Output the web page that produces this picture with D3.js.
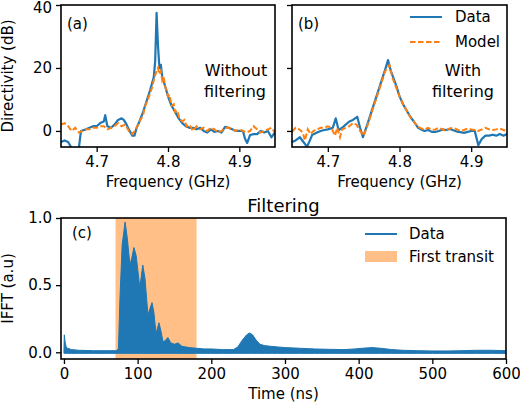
<!DOCTYPE html>
<html><head><meta charset="utf-8">
<script src="https://cdn.jsdelivr.net/npm/d3@7"></script>
<style>body{margin:0;background:#fff}svg{display:block}text{font-family:"DejaVu Sans",sans-serif;fill:#000}</style>
</head><body><svg id="c" width="520" height="409"></svg>
<script>
// ---- Panel (a): without filtering ----
const freqAData = [4.650,4.655,4.660,4.665,4.670,4.675,4.678,4.685,4.690,4.695,4.700,4.705,4.710,4.712,4.715,4.720,4.725,4.730,4.735,4.738,4.742,4.745,4.750,4.753,4.756,4.760,4.765,4.770,4.775,4.780,4.782,4.784,4.786,4.788,4.790,4.792,4.795,4.800,4.805,4.810,4.815,4.820,4.825,4.830,4.835,4.840,4.845,4.850,4.855,4.860,4.865,4.870,4.875,4.880,4.885,4.890,4.895,4.900,4.905,4.908,4.911,4.915,4.920,4.925,4.930,4.935,4.940,4.945,4.950];
const dirAData = [-3.5,-3.0,-3.5,-5.5,-6,-5.5,0,0.5,1,1.5,1.5,2.5,3,5,1.5,1,2,3.5,4,3.5,2,0.5,-1.5,-1.5,1,3,6,9.5,13,17,22,37.5,27,20,21,17,15,11,8,6,4,2.5,1.5,1,1,0.5,1,0,-0.5,0.5,-0.3,0,-0.5,1.3,1,0.5,0,0,0,-2.5,-3.8,-1.3,-1,-1,0,-0.5,0,-2,-0.5];
const freqAModel = [4.650,4.655,4.660,4.665,4.670,4.675,4.680,4.685,4.690,4.695,4.700,4.705,4.710,4.715,4.720,4.725,4.730,4.735,4.740,4.745,4.750,4.755,4.760,4.765,4.768,4.772,4.775,4.778,4.781,4.784,4.786,4.788,4.790,4.792,4.794,4.796,4.798,4.800,4.802,4.805,4.808,4.810,4.813,4.816,4.820,4.823,4.826,4.830,4.835,4.840,4.845,4.850,4.855,4.860,4.865,4.870,4.875,4.880,4.885,4.890,4.895,4.900,4.905,4.910,4.915,4.920,4.925,4.930,4.935,4.940,4.945,4.950];
const dirAModel = [2,2.5,1.5,0,1,-0.5,0,0.5,0.5,1,1,1.5,1.5,0.5,1,1.5,2.5,1.5,2,0,-1,0.5,3,5,8,10,12,14,17,19,20,18,19,16,17,14,13,11,11.5,8,8.5,6,6.5,4,3,3.5,1.5,2,0,1.5,0.5,1,0,1,0.5,-0.5,0,1,1,0.5,0,0.5,0,-0.5,0,1.5,0.5,-0.5,0,0.5,1,-0.5];

// ---- Panel (b): with filtering ----
const freqBData = [4.650,4.655,4.661,4.666,4.671,4.675,4.678,4.685,4.690,4.695,4.700,4.707,4.711,4.715,4.720,4.725,4.730,4.735,4.741,4.745,4.749,4.755,4.760,4.765,4.770,4.775,4.780,4.784,4.788,4.792,4.796,4.800,4.805,4.810,4.815,4.820,4.826,4.830,4.835,4.840,4.845,4.850,4.855,4.860,4.865,4.870,4.875,4.880,4.885,4.890,4.895,4.900,4.905,4.910,4.915,4.920,4.925,4.930,4.935,4.940,4.945,4.950];
const dirBData = [-3.5,-3,-2,-3.5,-5,-3,-1.3,-0.5,0,0.3,0.5,1,4,0.3,1,2,3,3.5,4.5,1,-2,2,5.5,9,12.5,16,19.5,22.5,19,16.5,14,11,8.5,6.5,4.5,3,1,0.5,0,0.3,-0.3,-0.3,0,0.5,0.3,0.6,0.2,-0.2,-0.4,-0.6,-0.3,0,0,-4.5,-2.5,-1.5,-1.5,-1.2,-1.5,-1,-1.5,-1];
const freqBModel = [4.650,4.655,4.660,4.665,4.668,4.672,4.676,4.680,4.685,4.690,4.695,4.700,4.705,4.710,4.713,4.717,4.720,4.725,4.730,4.735,4.740,4.745,4.750,4.755,4.760,4.765,4.770,4.775,4.780,4.786,4.790,4.795,4.800,4.805,4.810,4.815,4.820,4.825,4.830,4.835,4.840,4.845,4.850,4.855,4.860,4.865,4.870,4.875,4.880,4.885,4.890,4.895,4.900,4.905,4.910,4.915,4.920,4.925,4.930,4.935,4.940,4.945,4.950];
const dirBModel = [-0.3,1,0.5,-0.5,-3,0.5,-1,0,0.5,1,1,1.5,1,-1.5,1,-2,0.5,1,1.5,2.5,2,0,-1.5,1.5,5,8.5,12,15.5,19,21,17,14,11,8.5,6.5,4.5,3,1.5,0.8,0.5,1,0.3,0.5,1,0.5,0,0.8,1,0.5,0,0.3,0.8,0.5,0.3,0,0.5,1,0.5,0.3,0.5,0.8,0.3,0];

// ---- Panel (c): IFFT ----
const timeC = [0,0.5,1.5,3,5,10,20,40,60,72,74,76,79,83,86,89.5,92,95,98,103,107,110,114,119.5,122,125,129,132,134.5,138,141,145,150,155,160,170,180,190,200,215,230,236,242,248,252,256,261,266,272,280,290,300,320,340,360,380,395,405,418,430,445,460,480,500,520,540,560,580,600];
const ifftUpper = [0.02,0.13,0.08,0.04,0.03,0.02,0.015,0.012,0.012,0.012,0.03,0.4,0.8,0.97,0.85,0.65,0.7,0.78,0.72,0.48,0.65,0.55,0.28,0.37,0.3,0.14,0.22,0.15,0.077,0.09,0.11,0.07,0.06,0.07,0.045,0.035,0.03,0.025,0.025,0.02,0.02,0.04,0.09,0.13,0.144,0.13,0.09,0.06,0.05,0.045,0.04,0.035,0.03,0.025,0.022,0.02,0.025,0.03,0.035,0.03,0.02,0.015,0.012,0.01,0.01,0.012,0.015,0.015,0.012];
const ifftLower = [-0.008,-0.008,-0.008,-0.008,-0.008,-0.008,-0.008,-0.008,-0.008,-0.008,-0.008,-0.008,-0.008,-0.008,-0.008,-0.008,-0.008,-0.008,-0.008,-0.008,-0.008,-0.008,-0.008,-0.008,-0.008,-0.008,-0.008,-0.008,-0.008,-0.008,-0.008,-0.008,-0.008,-0.008,-0.008,-0.008,-0.008,-0.008,-0.008,-0.008,-0.008,-0.008,-0.008,-0.008,-0.008,-0.008,-0.008,-0.008,-0.008,-0.008,-0.008,-0.008,-0.008,-0.008,-0.008,-0.008,-0.008,-0.008,-0.008,-0.008,-0.008,-0.008,-0.008,-0.008,-0.008,-0.008,-0.008,-0.008,-0.008];
const transitWindow = [70, 180];

const freqTicks = [4.7, 4.8, 4.9];
const dirTicks = [0, 20, 40];
const timeTicks = [0, 100, 200, 300, 400, 500, 600];
const ifftTicks = [0.0, 0.5, 1.0];

const BLUE = "#1f77b4", ORANGE = "#ff7f0e";
const svg = d3.select("#c");
const FS = 15;

function frame(g, w, h) {
  g.append("rect").attr("width", w).attr("height", h).attr("fill", "none")
    .attr("stroke", "#000").attr("stroke-width", 1.6);
}
function styleAxis(sel) {
  sel.select(".domain").remove();
  sel.selectAll(".tick line").attr("stroke", "#000").attr("stroke-width", 1.3);
  sel.selectAll(".tick text").style("font-size", FS + "px").style("font-family", "DejaVu Sans");
}
function zipPts(xs, ys) { return xs.map((x, i) => [x, ys[i]]).filter(d => d[1] !== undefined); }

function freqPanel(id, left, top, w, h, dataF, dataV, modelF, modelV, showYLabels) {
  const g = svg.append("g").attr("transform", `translate(${left},${top})`);
  const x = d3.scaleLinear().domain([4.65, 4.95]).range([0, w]);
  const y = d3.scaleLinear().domain([-5.1, 40]).range([h, 0]);
  const cid = "clip" + id;
  g.append("clipPath").attr("id", cid).append("rect").attr("width", w).attr("height", h);
  const line = d3.line().x(d => x(d[0])).y(d => y(d[1]));
  const plot = g.append("g").attr("clip-path", `url(#${cid})`);
  plot.append("path").datum(zipPts(dataF, dataV)).attr("d", line)
    .attr("fill", "none").attr("stroke", BLUE).attr("stroke-width", 2.2).attr("stroke-linejoin", "round");
  plot.append("path").datum(zipPts(modelF, modelV)).attr("d", line)
    .attr("fill", "none").attr("stroke", ORANGE).attr("stroke-width", 2).attr("stroke-dasharray", "5.5,2.5");
  const ax = g.append("g").attr("transform", `translate(0,${h})`)
    .call(d3.axisBottom(x).tickValues(freqTicks).tickFormat(d3.format(".1f")).tickSize(5).tickPadding(4));
  styleAxis(ax);
  const ay = g.append("g").call(d3.axisLeft(y).tickValues(dirTicks).tickSize(5).tickPadding(4)
    .tickFormat(showYLabels ? d3.format("d") : () => ""));
  styleAxis(ay);
  ay.selectAll(".tick text").filter(d => d === 40).attr("dy", "0.5em");
  frame(g, w, h);
  g.append("text").attr("x", w / 2).attr("y", h + 40).attr("text-anchor", "middle")
    .style("font-size", FS + "px").text("Frequency (GHz)");
  return { g, x, y };
}

// Panel (a)
const A = freqPanel("a", 61, 5, 214, 142, freqAData, dirAData, freqAModel, dirAModel, true);
A.g.append("text").attr("x", 6).attr("y", 24).style("font-size", FS + "px").text("(a)");
A.g.append("text").attr("x", 175).attr("y", 71).attr("text-anchor", "middle").style("font-size", "16px").text("Without");
A.g.append("text").attr("x", 174).attr("y", 92).attr("text-anchor", "middle").style("font-size", "16px").text("filtering");
svg.append("text").attr("transform", `translate(13,${5 + 71}) rotate(-90)`).attr("text-anchor", "middle")
  .style("font-size", FS + "px").text("Directivity (dB)");

// Panel (b)
const B = freqPanel("b", 292, 5, 215, 142, freqBData, dirBData, freqBModel, dirBModel, false);
B.g.append("text").attr("x", 6).attr("y", 24).style("font-size", FS + "px").text("(b)");
B.g.append("text").attr("x", 171).attr("y", 71).attr("text-anchor", "middle").style("font-size", "16px").text("With");
B.g.append("text").attr("x", 171).attr("y", 92).attr("text-anchor", "middle").style("font-size", "16px").text("filtering");
// legend (b)
const lgB = B.g.append("g");
lgB.append("line").attr("x1", 118).attr("x2", 150).attr("y1", 12).attr("y2", 12).attr("stroke", BLUE).attr("stroke-width", 2);
lgB.append("text").attr("x", 163).attr("y", 17).style("font-size", FS + "px").text("Data");
lgB.append("line").attr("x1", 118).attr("x2", 150).attr("y1", 37).attr("y2", 37).attr("stroke", ORANGE).attr("stroke-width", 2).attr("stroke-dasharray", "5.5,2.5");
lgB.append("text").attr("x", 163).attr("y", 42).style("font-size", FS + "px").text("Model");

// Panel (c)
{
  const left = 61, top = 218, w = 445, h = 141;
  const g = svg.append("g").attr("transform", `translate(${left},${top})`);
  const x = d3.scaleLinear().domain([-4, 600]).range([0, w]);
  const y = d3.scaleLinear().domain([-0.05, 1.0]).range([h, 0]);
  g.append("clipPath").attr("id", "clipc").append("rect").attr("width", w).attr("height", h);
  const plot = g.append("g").attr("clip-path", "url(#clipc)");
  plot.append("rect").attr("x", x(transitWindow[0])).attr("width", x(transitWindow[1]) - x(transitWindow[0]))
    .attr("y", 0).attr("height", h).attr("fill", ORANGE).attr("fill-opacity", 0.5);
  const pts = timeC.map((t, i) => ({ t, lo: ifftLower[i], hi: ifftUpper[i] }));
  plot.append("path").datum(pts)
    .attr("d", d3.area().x(d => x(d.t)).y0(d => y(d.lo)).y1(d => y(d.hi)))
    .attr("fill", BLUE).attr("stroke", BLUE).attr("stroke-width", 1);
  const ax = g.append("g").attr("transform", `translate(0,${h})`)
    .call(d3.axisBottom(x).tickValues(timeTicks).tickFormat(d3.format("d")).tickSize(5).tickPadding(4));
  styleAxis(ax);
  const ay = g.append("g").call(d3.axisLeft(y).tickValues(ifftTicks).tickFormat(d3.format(".1f")).tickSize(5).tickPadding(4));
  styleAxis(ay);
  frame(g, w, h);
  g.append("text").attr("x", 11).attr("y", 20).style("font-size", FS + "px").text("(c)");
  g.append("text").attr("x", w / 2).attr("y", h + 40).attr("text-anchor", "middle").style("font-size", FS + "px").text("Time (ns)");
  g.append("text").attr("x", w / 2).attr("y", -6).attr("text-anchor", "middle").style("font-size", "18px").text("Filtering");
  svg.append("text").attr("transform", `translate(13,${top + h / 2}) rotate(-90)`).attr("text-anchor", "middle")
    .style("font-size", FS + "px").text("IFFT (a.u)");
  // legend (c)
  g.append("line").attr("x1", 304).attr("x2", 336).attr("y1", 16).attr("y2", 16).attr("stroke", BLUE).attr("stroke-width", 2);
  g.append("text").attr("x", 348).attr("y", 21).style("font-size", FS + "px").text("Data");
  g.append("rect").attr("x", 304).attr("y", 33).attr("width", 32).attr("height", 11).attr("fill", ORANGE).attr("fill-opacity", 0.5);
  g.append("text").attr("x", 348).attr("y", 44).style("font-size", FS + "px").text("First transit");
}
</script></body></html>
